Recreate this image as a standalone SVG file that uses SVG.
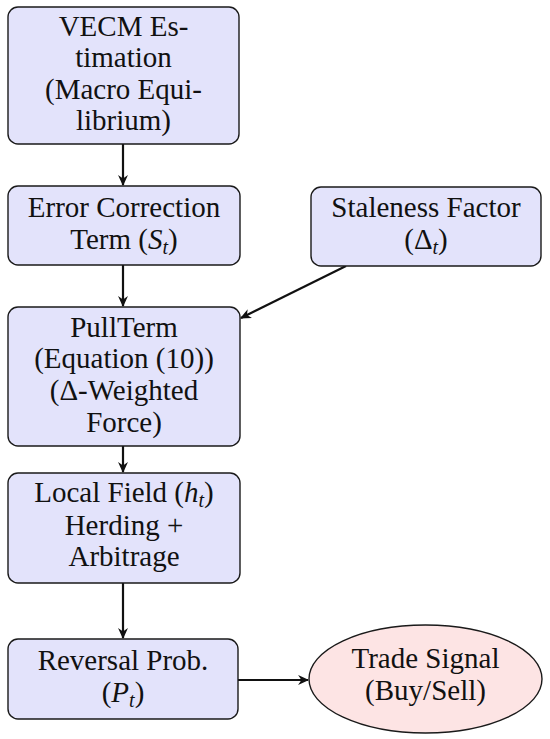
<svg xmlns="http://www.w3.org/2000/svg" width="550" height="739" viewBox="0 0 550 739">
<defs>
<style>
.box{fill:#e3e3fb;stroke:#1a1a1a;stroke-width:1.4}
.ell{fill:#fde4e4;stroke:#1a1a1a;stroke-width:1.4}
text{font-family:"Liberation Serif","DejaVu Serif",serif;font-size:29px;fill:#111;text-anchor:middle}
.it{font-style:italic}
.sub{font-style:italic;font-size:20px}
.conn{stroke:#111;stroke-width:2.2;fill:none;marker-end:url(#ah)}
</style>
<marker id="ah" viewBox="0 0 10 10" refX="9" refY="5" markerWidth="5" markerHeight="5" orient="auto" markerUnits="strokeWidth">
<path d="M0,0.5 L10,5 L0,9.5 L3,5 Z" fill="#111"/>
</marker>
</defs>
<g id="connectors">
<line class="conn" x1="123" y1="144" x2="123" y2="185"/>
<line class="conn" x1="123" y1="265" x2="123" y2="306"/>
<line class="conn" x1="346" y1="266" x2="241" y2="318"/>
<line class="conn" x1="123" y1="446" x2="123" y2="472"/>
<line class="conn" x1="123" y1="583" x2="123" y2="638"/>
<line class="conn" x1="238" y1="680" x2="308" y2="680"/>
</g>
<g id="vecm">
<rect class="box" x="8" y="7" width="231" height="137" rx="10"/>
<text x="123.5" y="36">VECM Es-</text>
<text x="123.5" y="67">timation</text>
<text x="123.5" y="99">(Macro Equi-</text>
<text x="123.5" y="130">librium)</text>
</g>
<g id="ect">
<rect class="box" x="8" y="186" width="232" height="79" rx="10"/>
<text x="124" y="217">Error Correction</text>
<text x="124" y="249">Term (<tspan class="it">S</tspan><tspan class="sub" dy="5">t</tspan><tspan dy="-5">)</tspan></text>
</g>
<g id="staleness">
<rect class="box" x="311" y="187" width="230" height="79" rx="10"/>
<text x="426" y="217">Staleness Factor</text>
<text x="426" y="249">(Δ<tspan class="sub" dy="5">t</tspan><tspan dy="-5">)</tspan></text>
</g>
<g id="pullterm">
<rect class="box" x="8" y="307" width="232" height="139" rx="10"/>
<text x="124" y="337">PullTerm</text>
<text x="124" y="368">(Equation (10))</text>
<text x="124" y="400">(Δ-Weighted</text>
<text x="124" y="432">Force)</text>
</g>
<g id="localfield">
<rect class="box" x="8" y="473" width="232" height="110" rx="10"/>
<text x="124" y="502">Local Field (<tspan class="it">h</tspan><tspan class="sub" dy="5">t</tspan><tspan dy="-5">)</tspan></text>
<text x="124" y="535">Herding +</text>
<text x="124" y="566">Arbitrage</text>
</g>
<g id="reversal">
<rect class="box" x="8" y="639" width="230" height="80" rx="10"/>
<text x="123" y="670">Reversal Prob.</text>
<text x="123" y="702">(<tspan class="it">P</tspan><tspan class="sub" dy="5">t</tspan><tspan dy="-5">)</tspan></text>
</g>
<g id="signal">
<ellipse class="ell" cx="425.5" cy="679" rx="116.5" ry="54"/>
<text x="425.5" y="668">Trade Signal</text>
<text x="425.5" y="700">(Buy/Sell)</text>
</g>
</svg>
